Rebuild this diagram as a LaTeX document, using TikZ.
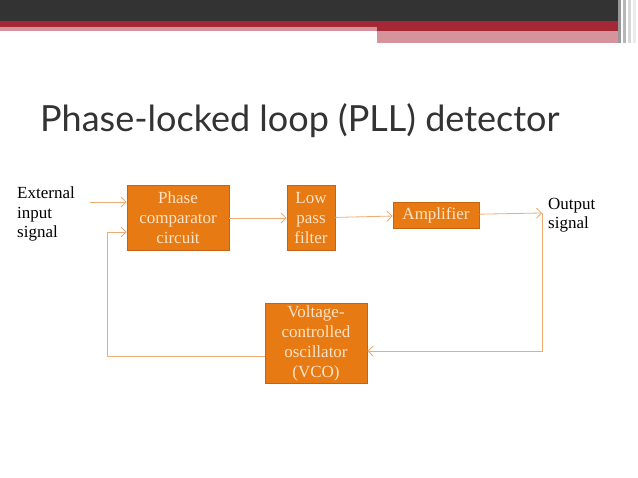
\documentclass[tikz,border=0pt]{standalone}
\usepackage{fontspec}
\setmainfont{Liberation Serif}
\newfontfamily\titlefont{Lato}
\usepackage{tikz}
\usetikzlibrary{arrows.meta,positioning}

\definecolor{barDark}{RGB}{51,51,51}
\definecolor{barRed}{RGB}{165,40,55}
\definecolor{barPink}{RGB}{213,148,155}
\definecolor{boxFill}{RGB}{232,122,20}
\definecolor{boxEdge}{RGB}{196,98,22}
\definecolor{boxText}{RGB}{252,228,200}
\definecolor{flowCol}{RGB}{238,172,115}

\begin{document}
\begin{tikzpicture}[
  x=1pt, y=-1pt,
  stagebox/.style={draw=boxEdge, line width=0.8pt, fill=boxFill, text=boxText, align=center,
    inner sep=0pt, font=\fontsize{17}{20}\selectfont},
  sidetext/.style={align=left, inner sep=0pt, font=\fontsize{17}{19.5}\selectfont},
  flow/.style={draw=flowCol, line width=0.8pt, -{Straight Barb[length=5pt,width=10pt]}}
]
% Page and header bars
\fill[white] (0,0) rectangle (638,478);
\useasboundingbox (0,0) rectangle (638,478);
\fill[barDark] (0,0) rectangle (618,21);
\fill[barRed] (0,21) rectangle (618,27);
\fill[barRed] (377,27) rectangle (618,31);
\fill[barPink] (0,27) rectangle (377,31);
\fill[barPink] (377,31) rectangle (618,43);
\foreach \i/\o in {0/0.5,5/0.35,10/0.2,15/0.1}
  \fill[barDark, opacity=\o] (618+\i,0) rectangle (621+\i,43);

% Title
\node[anchor=base west, inner sep=0pt, text=barDark, font=\titlefont\fontsize{36}{40}\selectfont]
  (title) at (40,132) {Phase-locked loop (PLL) detector};

% Blocks
\node[stagebox, minimum width=102pt, minimum height=65pt] (phase) at (178,218) {Phase\\comparator\\circuit};
\node[stagebox, minimum width=48pt, minimum height=65pt] (lpf) at (311,218) {Low\\pass\\filter};
\node[stagebox, minimum width=86pt, minimum height=26pt] (amp) at (436,215) {Amplifier};
\node[stagebox, minimum width=102pt, minimum height=80pt] (vco) at (316,343) {Voltage-\\controlled\\oscillator\\(VCO)};

% Input and output labels
\node[sidetext, anchor=west] (inlabel) at (17,214) {External\\input\\signal};
\node[sidetext, anchor=west] (outlabel) at (548,215) {Output\\signal};

% Connection points
\coordinate (ext) at (90,202);
\coordinate (out) at (542,213);
\coordinate (fbl) at (107,356);
\coordinate (fbr) at (542,351);

% Signal path
\draw[flow] (ext) -- (ext -| phase.west);
\draw[flow] (phase) -- (lpf);
\draw[flow] (lpf) -- (amp);
\draw[flow] (amp) -- (out);

% Feedback loop
\draw[flow] (out) |- (vco.east |- fbr);
\draw[flow] (vco.west |- fbl) -- (fbl) |- ([yshift=-14pt]phase.west);
\end{tikzpicture}
\end{document}
